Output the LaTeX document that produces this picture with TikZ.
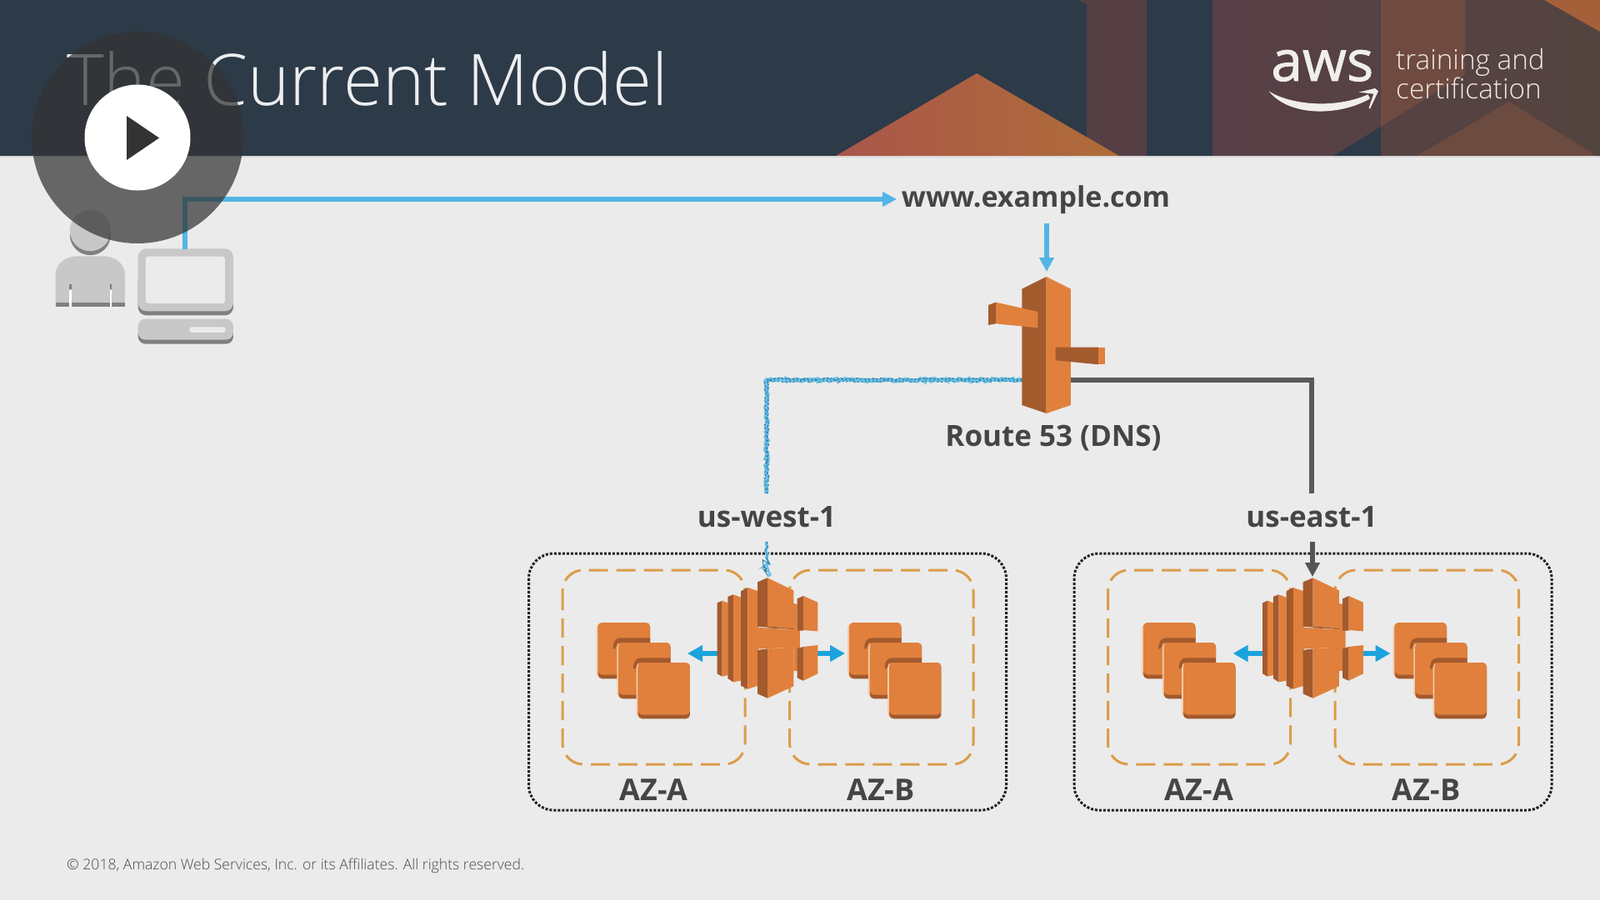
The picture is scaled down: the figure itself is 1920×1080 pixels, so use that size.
\documentclass[tikz,border=0pt]{standalone}
\usepackage{fontspec}
\usetikzlibrary{arrows.meta,decorations.pathmorphing,calc}
\setmainfont{Open Sans}
\newfontfamily\lightf{Open Sans Light}
\newfontfamily\semif[FakeBold=1.2]{Open Sans}
\definecolor{bgc}{HTML}{EBEBEB}
\definecolor{navy}{HTML}{2D3A48}
\definecolor{orl}{HTML}{E0803C}
\definecolor{ord}{HTML}{A35A2D}
\definecolor{halo}{HTML}{F6CBA8}
\definecolor{txt}{HTML}{444547}
\definecolor{lblue}{HTML}{52B5E6}
\definecolor{ablue}{HTML}{1CA3DC}
\definecolor{gline}{HTML}{5A5A5A}
\definecolor{dashc}{HTML}{DC9C4A}
\definecolor{iconl}{HTML}{C8C8C8}
\definecolor{icond}{HTML}{808080}
\definecolor{cA}{HTML}{553F45}
\definecolor{cB}{HTML}{6E4A40}
\definecolor{cC}{HTML}{6C4B40}
\definecolor{cD}{HTML}{A5603A}
\definecolor{cE}{HTML}{D8D8D8}
\definecolor{titlec}{HTML}{ECEEF0}
\definecolor{logoc}{HTML}{F0EEEC}
\definecolor{logot}{HTML}{F2E8E0}
\definecolor{noise}{HTML}{2E7EA8}
\definecolor{noisel}{HTML}{6DC0E4}
\definecolor{garrow}{HTML}{555555}
\definecolor{footc}{HTML}{4A4A4A}
\definecolor{ovl}{HTML}{333333}
\definecolor{pL}{HTML}{573F47}
\definecolor{pR}{HTML}{54443F}
\definecolor{tL}{HTML}{A9564A}
\definecolor{tR}{HTML}{B06C38}
\tikzset{
  lbl/.style={anchor=base,text=txt,font=\fontsize{#1}{#1}\selectfont\bfseries,inner sep=0pt},
  wline/.style={draw=lblue,line width=6pt},
  tip/.style={-{Triangle[length=17pt,width=17pt]}},
  azbox/.style={draw=dashc,line width=3pt,dash pattern=on 23pt off 10pt,rounded corners=25pt},
  regionbox/.style={draw=black!88,line width=3pt,dash pattern=on 3pt off 2pt,rounded corners=30pt},
  az/.style={draw=ablue,line width=6pt,-{Triangle[length=18pt,width=19pt]}},
  noisy/.style={draw=#1,decorate,decoration={random steps,segment length=2.5pt,amplitude=1.3pt}}
}
\newcommand{\squareicon}[2]{%
  \fill[halo,rounded corners=5pt] ({#1-6},{#2+2}) rectangle ({#1+60},{#2+198});
  \fill[ord,rounded corners=5pt] (#1,#2) rectangle ({#1+187},{#2+202});
  \fill[orl,rounded corners=5pt] (#1,#2) rectangle ({#1+187},{#2+188});
}
\newcommand{\instancestack}[2]{%
  \begin{scope}[shift={(#1,#2)},x=.3333pt,y=-.3333pt]
    \squareicon{53}{48}
    \fill[ord] (107,142) .. controls (107,118) and (115,103) .. (135,103) -- (240,103) -- (240,121) -- (122,121) -- (115,142) -- cycle;
    \squareicon{127}{120}
    \fill[ord] (180,214) .. controls (180,190) and (188,175) .. (208,175) -- (313,175) -- (313,193) -- (195,193) -- (188,214) -- cycle;
    \squareicon{197}{192}
  \end{scope}
}
\newcommand{\elbicon}[2]{%
  \begin{scope}[shift={(#1,#2)},x=.3333pt,y=-.3333pt]
    \fill[ord] (62,160) -- (80,152) -- (80,425) -- (62,415) -- cycle;
    \fill[orl] (80,152) -- (100,160) -- (100,420) -- (80,425) -- cycle;
    \fill[ord] (100,138) -- (120,130) -- (120,445) -- (100,432) -- cycle;
    \fill[orl] (120,130) -- (147,140) -- (147,440) -- (120,445) -- cycle;
    \fill[ord] (147,118) -- (172,105) -- (172,470) -- (147,458) -- cycle;
    \fill[orl] (172,105) -- (210,118) -- (210,458) -- (172,470) -- cycle;
    \fill[orl] (200,248) -- (360,258) -- (360,405) -- (337,405) -- (337,320) -- (200,326) -- cycle;
    \fill[orl] (330,160) -- (350,165) -- (350,270) -- (330,270) -- cycle;
    \fill[ord] (207,85) -- (243,70) -- (243,248) -- (207,245) -- cycle;
    \fill[orl] (243,70) -- (337,115) -- (337,252) -- (243,244) -- cycle;
    \fill[ord] (243,244) -- (337,252) -- (337,255) -- (243,250) -- cycle;
    \fill[ord] (207,330) -- (243,325) -- (243,503) -- (207,487) -- cycle;
    \fill[orl] (243,325) -- (337,320) -- (337,460) -- (243,503) -- cycle;
    \fill[ord] (350,145) -- (372,135) -- (372,260) -- (350,260) -- cycle;
    \fill[orl] (372,135) -- (424,158) -- (424,262) -- (372,258) -- cycle;
    \fill[ord] (350,325) -- (372,318) -- (372,440) -- (350,430) -- cycle;
    \fill[orl] (372,318) -- (424,312) -- (424,415) -- (372,440) -- cycle;
  \end{scope}
}
\begin{document}
\begin{tikzpicture}[x=1pt,y=-1pt]
\useasboundingbox (0,0) rectangle (1920,1080);
\fill[bgc] (0,0) rectangle (1920,1080);
% banner
\fill[navy] (0,0) rectangle (1920,187);
\fill[cA] (1293,0) -- (1376,0) -- (1376,187) -- (1304,187) -- (1304,5) -- cycle;
\shade[left color=pL,right color=pR] (1455,0) rectangle (1920,187);
\fill[navy] (1600,187) -- (1657,152) -- (1657,187) -- cycle;
\fill[cB] (1657,0) -- (1758,0) -- (1758,89) -- (1657,152) -- cycle;
\fill[cC] (1700,187) -- (1811,122) -- (1908,182) -- (1914,187) -- cycle;
\fill[cD] (1853,0) -- (1920,38) -- (1920,0) -- cycle;
\shade[left color=tL,right color=tR] (1003,187) -- (1172,88) -- (1343,187) -- cycle;
\fill[cE] (0,187) rectangle (1920,188.5);
% title and logo
\node[anchor=base west,inner sep=0pt,text=titlec,font=\lightf\fontsize{85.4}{86}\selectfont] (title) at (80,126) {The Current Model};
\node[anchor=base west,inner sep=0pt,text=logoc,font=\semif\fontsize{68}{69}\selectfont] (awslogo) at (1525,97) {aws};
\begin{scope}[shift={(1500,0)},x=.3333pt,y=-.3333pt]
  \fill[logoc] (68,328) .. controls (140,375) and (300,395) .. (425,340) -- (432,355) .. controls (320,420) and (140,420) .. (68,328) -- cycle;
  \fill[logoc] (392,332) -- (450,318) -- (462,328) -- (432,392) -- (428,388) -- (445,338) -- cycle;
\end{scope}
\node[anchor=base west,inner sep=0pt,text=logot,font=\lightf\fontsize{33.3}{34}\selectfont] (lg1) at (1675,83) {training and};
\node[anchor=base west,inner sep=0pt,text=logot,font=\lightf\fontsize{33.3}{34}\selectfont] (lg2) at (1675,118) {certification};
% person
\begin{scope}[shift={(50,225)},x=.3333pt,y=-.3333pt]
  \fill[icond] (175,170) circle[radius=24.5pt];
  \fill[iconl] (175,155) circle[radius=24.5pt];
  \fill[iconl] (50,428) -- (50,315) .. controls (50,270) and (90,247) .. (130,247) -- (220,247) .. controls (260,247) and (300,270) .. (300,315) -- (300,428) -- cycle;
  \fill[icond] (50,413) rectangle (300,428);
  \fill[white] (100,368) rectangle (107,428);
  \fill[white] (245,368) rectangle (252,428);
  \fill[icond] (100,348) rectangle (107,365);
  \fill[icond] (245,348) rectangle (252,365);
  % computer
  \fill[icond,rounded corners=10pt] (347,300) rectangle (690,460);
  \fill[iconl,rounded corners=10pt] (347,220) rectangle (690,445);
  \fill[bgc,rounded corners=3pt] (375,248) rectangle (660,417);
  \fill[icond,rounded corners=9pt] (347,500) rectangle (690,563);
  \fill[iconl,rounded corners=9pt] (347,473) rectangle (690,548);
  \fill[bgc,rounded corners=3pt] (532,502) rectangle (662,522);
\end{scope}
% anchors
\coordinate (pctop) at (222,299);
\coordinate (pccorner) at (222,239);
\node[lbl=34] (www) at (1243,248.5) {www.example.com};
\coordinate (wwwin) at (1076,239);
\coordinate (wwwout) at (1256,268);
\coordinate (r53top) at (1256,326);
\coordinate (r53l) at (1227,456);
\coordinate (r53r) at (1285,456);
\coordinate (westc) at (920,456);
\coordinate (eastc) at (1574,456);
\coordinate (westend) at (920,592);
\coordinate (eastend) at (1574,592);
\coordinate (westa) at (920,650);
\coordinate (westm) at (920,670);
\coordinate (westb) at (921,690);
\coordinate (easta) at (1575,650);
\coordinate (eastb) at (1575,692);
% connectors
\draw[wline,tip] (pctop) -- (pccorner) -- (wwwin);
\draw[wline,tip] (wwwout) -- (r53top);
\draw[gline,line width=6pt] (r53r) -- (eastc) -- (eastend);
\draw[noisy=noisel,line width=5pt] (r53l) -- (westc) -- (westend);
\draw[noisy=noise,line width=1.2pt,dash pattern=on 3pt off 2pt] ($(r53l)+(0,-1.3)$) -- ($(westc)+(1.3,-1.3)$) -- ($(westend)+(1.3,0)$);
\draw[noisy=noise,line width=1.2pt,dash pattern=on 2pt off 3pt] ($(r53l)+(0,1.3)$) -- ($(westc)+(-1.3,1.3)$) -- ($(westend)+(-1.3,0)$);
% route 53 icon
\begin{scope}[shift={(1100,210)},x=.3333pt,y=-.3333pt]
  \fill[ord] (379,410) -- (467,366) -- (467,858) -- (379,828) -- cycle;
  \fill[orl] (467,366) -- (555,410) -- (555,828) -- (467,858) -- cycle;
  \fill[ord] (258,468) -- (285,458) -- (285,535) -- (258,540) -- cycle;
  \fill[orl] (285,458) -- (436,492) -- (436,550) -- (285,535) -- cycle;
  \fill[ord] (500,620) -- (655,620) -- (655,682) -- (500,667) -- cycle;
  \fill[orl] (655,620) -- (678,620) -- (678,682) -- (655,682) -- cycle;
\end{scope}
\node[lbl=35] (r53lbl) at (1264,535) {Route 53 (DNS)};
\node[lbl=35] (west) at (920,632) {us-west-1};
\node[lbl=35] (east) at (1574,632) {us-east-1};
% regions
\foreach \d/\nm in {0/w,654.5/e}{
  \begin{scope}[xshift=\d pt]
    \draw[regionbox] (634.5,664) rectangle (1207.5,972);
    \draw[azbox] (675,684) rectangle (894,917);
    \draw[azbox] (947.6,684) rectangle (1168,917);
    \instancestack{700}{731}
    \instancestack{1001.5}{731}
    \coordinate (l\nm) at (861,784);
    \coordinate (la\nm) at (825,784);
    \coordinate (r\nm) at (981,784);
    \coordinate (ra\nm) at (1014,784);
    \draw[az] (l\nm) -- (la\nm);
    \draw[az] (r\nm) -- (ra\nm);
    \elbicon{840}{670}
    \node[lbl=36] (aza\nm) at (784.5,960) {AZ-A};
    \node[lbl=36] (azb\nm) at (1057,960) {AZ-B};
  \end{scope}
}
\draw[noisy=noisel,line width=3.5pt] (westa) -- (westm);
\draw[noisy=noise,line width=1pt,dash pattern=on 3pt off 2pt] (westa) -- (westm);
\draw[noisy=noisel,line width=2.5pt,decoration={amplitude=5pt}] (westm) -- (westb);
\draw[noisy=noise,line width=1pt,decoration={amplitude=5pt}] (westm) -- (westb);
\draw[draw=garrow,line width=6pt,tip] (easta) -- (eastb);
% footer
\node[anchor=base west,inner sep=0pt,text=footc,font=\lightf\fontsize{17.6}{18}\selectfont] (foot) at (80,1043) {© 2018, Amazon Web Services, Inc. or its Affiliates. All rights reserved.};
% video overlay
\fill[ovl,fill opacity=.72] (165,165) circle[radius=127pt];
\node[circle,fill=white,minimum size=127pt,inner sep=0pt] (playc) at (165,165) {};
\fill[ovl] (152,139) -- (191,165.5) -- (152,192) -- cycle;
\end{tikzpicture}
\end{document}
